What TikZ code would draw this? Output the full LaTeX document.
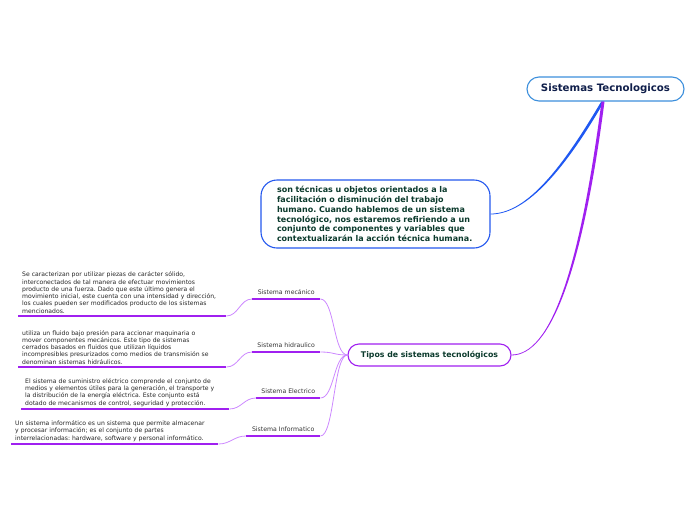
\documentclass[tikz,border=0pt]{standalone}
\usepackage{fontspec}
\setmainfont{DejaVu Sans}
\usetikzlibrary{calc}
\frenchspacing
\begin{document}
\begin{tikzpicture}[x=1pt,y=-1pt,
  rootbox/.style={draw=rootblue, line width=1.1pt, rounded corners=12pt, fill=white,
    minimum width=157pt, minimum height=24pt, inner sep=0pt, text=navy,
    font=\fontsize{10.2}{12}\selectfont\bfseries},
  descbox/.style={draw=descblue, line width=1.1pt, rounded corners=16pt, fill=white,
    minimum width=229pt, minimum height=68pt, inner xsep=0pt, inner ysep=0pt,
    text width=197pt, align=left, text=dgreen,
    font=\fontsize{8}{9.8}\selectfont\bfseries},
  tiposbox/.style={draw=tpurple, line width=1.1pt, rounded corners=11pt, fill=white,
    minimum width=163pt, minimum height=22pt, inner sep=0pt, text=dgreen,
    font=\fontsize{7.8}{10}\selectfont\bfseries},
  topic/.style={anchor=south west, minimum width=68pt, inner xsep=0pt, inner ysep=4.5pt,
    text=black!80, font=\fontsize{6.2}{7.5}\selectfont},
  detail/.style={anchor=south west, inner xsep=4pt, inner ysep=2.5pt, align=left,
    text width=200pt, text=black!85, font=\fontsize{6.1}{7.3}\selectfont},
  uline/.style={draw=tpurple, line width=1.6pt},
  subconn/.style={draw=lpurple, line width=0.8pt},
]
\definecolor{rootblue}{HTML}{3C8FDC}
\definecolor{descblue}{HTML}{2458EE}
\definecolor{tpurple}{HTML}{A020F0}
\definecolor{lpurple}{HTML}{CC88FF}
\definecolor{navy}{HTML}{0F1E4A}
\definecolor{dgreen}{HTML}{0B3A2C}
\definecolor{blueline}{HTML}{1F58F2}

\useasboundingbox (0,0) rectangle (696,520);

\node[rootbox] (root) at (605.5,89) {Sistemas Tecnologicos};
\node[descbox] (desc) at (375.5,214) {\hspace*{0pt}son técnicas u objetos orientados a la\\facilitación o disminución del trabajo\\humano. Cuando hablemos de un sistema\\tecnológico, nos estaremos refiriendo a un\\conjunto de componentes y variables que\\contextualizarán la acción técnica humana.};
\node[tiposbox] (tipos) at (429.5,355) {Tipos de sistemas tecnológicos};

% tapered main connectors
\fill[blueline] ($(root.south)+(-4.3,0)$) .. controls (557.5,176) and (523.7,213.6) .. ($(desc.east)+(0,-0.4)$)
   -- ($(desc.east)+(0,0.4)$) .. controls (523.7,214.4) and (560.5,176.8) .. ($(root.south)+(-1.3,0)$) -- cycle;
\fill[tpurple] ($(root.south)+(-4,0)$) .. controls (579.5,270) and (550.7,354.6) .. ($(tipos.east)+(0,-0.4)$)
   -- ($(tipos.east)+(0,0.4)$) .. controls (550.7,355.4) and (582.5,270.6) .. ($(root.south)+(-1,0)$) -- cycle;

% topics
\node[topic] (mec) at (252,299) {Sistema mecánico};
\node[topic] (hid) at (252,352) {Sistema hidraulico};
\node[topic, minimum width=64pt] (ele) at (256,398) {Sistema Electrico};
\node[topic, minimum width=74pt] (inf) at (246,436) {Sistema Informatico};
\foreach \n in {mec,hid,ele,inf}{
  \draw[uline] (\n.south west) -- (\n.south east);
  \draw[subconn] (tipos.west) .. controls ($(tipos.west)+(-14,0)$) and ($(\n.south east)+(14,0)$) .. (\n.south east);
}

% details
\node[detail] (mecd) at (18,316) {Se caracterizan por utilizar piezas de carácter sólido,\\interconectados de tal manera de efectuar movimientos\\producto de una fuerza. Dado que este último genera el\\movimiento inicial, este cuenta con una intensidad y dirección,\\los cuales pueden ser modificados producto de los sistemas\\mencionados.};
\node[detail] (hidd) at (18,367) {utiliza un fluido bajo presión para accionar maquinaria o\\mover componentes mecánicos. Este tipo de sistemas\\cerrados basados en fluidos que utilizan líquidos\\incompresibles presurizados como medios de transmisión se\\denominan sistemas hidráulicos.};
\node[detail] (eled) at (21,409) {El sistema de suministro eléctrico comprende el conjunto de\\medios y elementos útiles para la generación, el transporte y\\la distribución de la energía eléctrica. Este conjunto está\\dotado de mecanismos de control, seguridad y protección.};
\node[detail, text width=199pt] (infd) at (11,444) {Un sistema informático es un sistema que permite almacenar\\y procesar información; es el conjunto de partes\\interrelacionadas: hardware, software y personal informático.};
\foreach \d/\t in {mecd/mec,hidd/hid,eled/ele,infd/inf}{
  \draw[uline] (\d.south west) -- (\d.south east);
  \draw[subconn] (\t.south west) .. controls ($(\t.south west)+(-12,0)$) and ($(\d.south east)+(12,0)$) .. (\d.south east);
}
\end{tikzpicture}
\end{document}
